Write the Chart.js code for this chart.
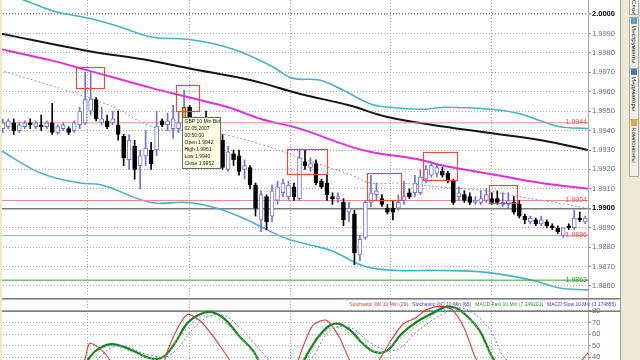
<!DOCTYPE html>
<html lang="ru">
<head>
<meta charset="UTF-8">
<title>GBP 10 Min</title>
<script src="https://cdn.jsdelivr.net/npm/chart.js"></script>
<style>
  html, body { margin: 0; padding: 0; background: #fff; }
  #wrap { position: relative; width: 640px; height: 360px; overflow: hidden; font-family: "Liberation Sans", Arial, sans-serif; }
  #main { position: absolute; left: 0; top: 0; }
  #osc { position: absolute; left: 0; top: 298px; }
  #edge { position: absolute; left: 0; top: 0; width: 2px; height: 360px; background: #eee8c4; }
  #side { position: absolute; left: 620px; top: 0; width: 20px; height: 360px; background: #ece9d8; border-left: 1px solid #9d9b8e; box-sizing: border-box; }
  .tab { position: absolute; left: 8px; width: 10px; box-sizing: border-box; border: 1px solid #aaa89a; background: #f3f1e6;
         writing-mode: vertical-rl; font-size: 6px; line-height: 8px; color: #222; white-space: nowrap; overflow: hidden; }
  .tab.on { background: #fff; }
  .ico { display: inline-block; width: 6px; height: 6px; margin-bottom: 2px; }
</style>
</head>
<body>
<div id="wrap">
  <canvas id="main" width="620" height="298"></canvas>
  <canvas id="osc" width="620" height="62"></canvas>
  <div id="edge"></div>
  <div id="side">
    <div class="tab on" style="top:-1px;height:16px">Слои</div>
    <div class="tab" style="top:17px;height:52px"><span class="ico" style="background:#5aa0c8"></span>Инструменты</div>
    <div class="tab" style="top:68px;height:52px"><span class="ico" style="background:#4a78c8"></span>Индикаторы</div>
    <div class="tab" style="top:119px;height:58px"><span class="ico" style="background:#e8a040"></span>Компоненты</div>
  </div>
</div>
<script>
// 10 min GBP bars
const openP = [
  1.9941,1.9942,1.9944,1.9940,1.9942,1.9944,1.9942,1.9943,1.9942,1.9944,
  1.9939,1.9941,1.9941,1.9940,1.9943,1.9944,1.9950,1.9956,1.9944,1.9945,
  1.9944,1.9943,1.9937,1.9925,1.9932,1.9922,1.9927,1.9930,1.9930,1.9945,
  1.9943,1.9941,1.9941,1.9942,1.9952,1.9945,1.9940,1.9941,1.9935,1.9931,
  1.9935,1.9920,1.9928,1.9927,1.9920,1.9921,1.9912,1.9894,1.9906,1.9896,
  1.9904,1.9908,1.9906,1.9911,1.9905,1.9924,1.9921,1.9923,1.9914,1.9913,
  1.9906,1.9905,1.9903,1.9898,1.9897,1.9876,1.9885,1.9903,1.9907,1.9905,
  1.9900,1.9900,1.9900,1.9904,1.9908,1.9908,1.9908,1.9915,1.9917,1.9918,
  1.9919,1.9918,1.9914,1.9906,1.9907,1.9906,1.9903,1.9903,1.9904,1.9905,
  1.9905,1.9902,1.9902,1.9903,1.9902,1.9896,1.9893,1.9894,1.9892,1.9893,
  1.9891,1.9890,1.9886,1.9891,1.9890,1.9895,1.9893
];
const highP = [
  1.9946,1.9946,1.9946,1.9944,1.9945,1.9946,1.9945,1.9948,1.9945,1.9954,
  1.9943,1.9944,1.9942,1.9945,1.9952,1.9970,1.9970,1.9957,1.9952,1.9948,
  1.9950,1.9950,1.9938,1.9938,1.9935,1.9930,1.9940,1.9934,1.9950,1.9946,
  1.9949,1.9953,1.9950,1.9961,1.9953,1.9947,1.9944,1.9950,1.9936,1.9936,
  1.9938,1.9932,1.9930,1.9930,1.9925,1.9922,1.9913,1.9909,1.9907,1.9912,
  1.9914,1.9915,1.9914,1.9913,1.9930,1.9930,1.9926,1.9925,1.9915,1.9917,
  1.9908,1.9908,1.9905,1.9903,1.9899,1.9886,1.9904,1.9917,1.9913,1.9907,
  1.9902,1.9904,1.9907,1.9914,1.9910,1.9917,1.9920,1.9922,1.9924,1.9923,
  1.9921,1.9919,1.9915,1.9911,1.9909,1.9908,1.9906,1.9909,1.9910,1.9908,
  1.9909,1.9908,1.9908,1.9906,1.9904,1.9897,1.9896,1.9895,1.9896,1.9894,
  1.9892,1.9891,1.9890,1.9892,1.9899,1.9898,1.9896
];
const lowP = [
  1.9939,1.9941,1.9938,1.9939,1.9941,1.9941,1.9941,1.9940,1.9941,1.9938,
  1.9938,1.9940,1.9938,1.9939,1.9941,1.9943,1.9948,1.9945,1.9943,1.9941,
  1.9943,1.9935,1.9922,1.9920,1.9915,1.9910,1.9922,1.9920,1.9927,1.9942,
  1.9940,1.9936,1.9939,1.9940,1.9944,1.9939,1.9938,1.9932,1.9928,1.9929,
  1.9920,1.9919,1.9922,1.9917,1.9915,1.9910,1.9896,1.9888,1.9889,1.9893,
  1.9902,1.9906,1.9904,1.9904,1.9904,1.9920,1.9919,1.9912,1.9910,1.9904,
  1.9902,1.9903,1.9891,1.9893,1.9871,1.9873,1.9884,1.9901,1.9904,1.9901,
  1.9897,1.9894,1.9899,1.9902,1.9905,1.9906,1.9907,1.9913,1.9916,1.9916,
  1.9916,1.9913,1.9902,1.9904,1.9903,1.9902,1.9902,1.9902,1.9903,1.9902,
  1.9902,1.9901,1.9900,1.9897,1.9895,1.9892,1.9892,1.9891,1.9891,1.9890,
  1.9889,1.9887,1.9885,1.9889,1.9889,1.9893,1.9892
];
const closeP = [
  1.9944,1.9945,1.9940,1.9943,1.9944,1.9943,1.9944,1.9942,1.9944,1.9939,
  1.9942,1.9943,1.9939,1.9944,1.9950,1.9956,1.9956,1.9946,1.9946,1.9942,
  1.9946,1.9938,1.9926,1.9935,1.9920,1.9927,1.9931,1.9923,1.9942,1.9943,
  1.9945,1.9946,1.9944,1.9952,1.9945,1.9941,1.9943,1.9935,1.9930,1.9934,
  1.9921,1.9929,1.9925,1.9919,1.9922,1.9912,1.9900,1.9907,1.9893,1.9909,
  1.9911,1.9913,1.9912,1.9906,1.9926,1.9922,1.9923,1.9913,1.9911,1.9907,
  1.9905,1.9906,1.9894,1.9900,1.9877,1.9884,1.9903,1.9908,1.9909,1.9902,
  1.9898,1.9898,1.9903,1.9906,1.9906,1.9913,1.9916,1.9920,1.9922,1.9921,
  1.9917,1.9914,1.9903,1.9908,1.9904,1.9903,1.9904,1.9905,1.9907,1.9903,
  1.9903,1.9903,1.9904,1.9898,1.9896,1.9894,1.9895,1.9892,1.9894,1.9891,
  1.9890,1.9888,1.9890,1.9890,1.9895,1.9894,1.9895
];

// indicator lines: [bar index, price]
const maSlow = [[-0.5,1.9990],[15.5,1.9981],[27,1.9976],[34,1.9972],[45,1.9966],[54,1.9959],[63,1.9953],[70,1.9947],[78,1.9943],[88,1.9939],[98,1.9935],[106.5,1.9930]];
const maMid = [[-0.5,1.9982],[9,1.9976],[15.5,1.9971],[27,1.9962],[34,1.9957],[41,1.9952],[47,1.9946],[54,1.9941],[63,1.9932],[67,1.9929],[76,1.9925],[80,1.9922],[90,1.9917],[98,1.9913],[106.5,1.9910]];
const bandUp = [[-0.5,2.0011],[4,2.0007],[9.8,2.0001],[15.5,1.9998],[20.7,1.9994],[27.3,1.9988],[33.5,1.9987],[41.8,1.9982],[49,1.9973],[52.7,1.9967],[57.6,1.9966],[61.8,1.9961],[66.7,1.9954],[70.4,1.9952],[76.4,1.9951],[80.7,1.9952],[88.5,1.9951],[93.5,1.9949],[98.9,1.9944],[101.3,1.9942],[106.5,1.9941]];
const bandLow = [[-0.5,1.9930],[7,1.9918],[14,1.9913],[18,1.9912],[27,1.9903],[33.5,1.9903],[39,1.9900],[44.5,1.9894],[48,1.9889],[52,1.9884],[57.6,1.9880],[60,1.9878],[66,1.9870],[72,1.9868],[79.5,1.9868],[88,1.9867],[96.4,1.9863],[101.3,1.9859],[106.5,1.9858]];
const maFast = [[-0.5,1.9971],[5.5,1.9966],[15.5,1.9957],[21,1.9951],[25.5,1.9944],[30,1.9940],[36,1.9940],[41.8,1.9937],[48,1.9932],[52,1.9928],[57.3,1.9923],[63.5,1.9917],[67,1.9913],[72,1.9913],[79.5,1.9911],[88,1.9909],[94,1.9906],[102.5,1.9902],[106.5,1.9900]];

const levels = [1.9944, 1.9904, 1.9886, 1.9863];
const levelColors = ['#ec8c8c', '#ec8c8c', '#ec9494', '#3aa03a'];
const levelText = ['#e05050', '#e05050', '#e05050', '#2c9a2c'];

// red boxes: bar index from/to, price top/bottom
const boxFrom = [13.3, 31.6, 51.8, 66.2, 76.4, 88.5];
const boxTo = [18.4, 35.8, 59.1, 72.4, 82.5, 93.6];
const boxTop = [1.99727, 1.99634, 1.99304, 1.99180, 1.99289, 1.99119];
const boxBottom = [1.99619, 1.99500, 1.99175, 1.99040, 1.99144, 1.99026];

const priceTicks = [2.0000,1.9990,1.9980,1.9970,1.9960,1.9950,1.9940,1.9930,1.9920,1.9910,1.9900,1.9890,1.9880,1.9870,1.9860];
const strongTicks = [2.0000, 1.9900];
const solidTick = 1.9900;
const timeGrid = [15.5, 33.9, 52.3, 70.5, 89.0];

// lower window: [bar index, value]
const stochK = [[12,20],[14.7,35],[15.8,52],[17.6,48],[19.5,38],[21.3,22],[24.9,15],[28.5,25],[30,46],[31.8,65],[33.6,77],[35.8,72],[38,60],[40.4,44],[42.5,30],[46.7,15],[51.3,18],[53.3,32],[54.7,50],[56.5,68],[58.9,72],[61.3,57],[63.1,38],[65.8,22],[68.5,38],[70.7,55],[72.9,69],[75.1,74],[77.1,81],[79.5,84],[81.8,81],[84,65],[86,40],[88.5,22],[95.8,12],[103,25],[106.5,44]];
const macdFast = [[12,10],[14,22],[15.8,40],[17.6,48],[20,51.5],[23.6,46],[26.7,39.5],[29.1,40],[31.3,52],[33.5,69],[35.8,77],[38,79],[40.4,73],[43.1,58],[45.5,46],[47.6,30],[51.3,20],[53.6,28],[55.8,46],[58,61],[60.4,69],[63.1,64],[65.5,52],[67.8,44.5],[70,46],[72.5,60],[75.3,70.5],[78.2,78],[80.7,83.5],[83.1,81],[86.7,63.6],[89.1,40],[92.2,22],[99.5,12],[106.5,18]];
const stochD = [[14,15],[16.7,35],[20.9,50],[26.7,42],[30.4,42],[35.8,70],[39.5,77],[43.1,66],[47.1,45],[50.4,30],[55.8,38],[59.5,63],[63.1,66],[67.1,52],[71.3,46],[75.8,64],[80.4,78],[84,82],[88.5,65],[91.3,40],[96,25],[106.5,22]];
const macdSlow = [[14,18],[16.2,38],[19.5,50],[24,44],[28.5,38],[33,62],[36.7,76],[40.4,70],[45,48],[48.6,28],[54,30],[57.3,55],[60.4,66],[64,58],[68.5,44],[72.2,56],[76.8,72],[81.3,82],[85,74],[88.5,45],[91.3,25],[106.5,20]];
const oscTicks = [80, 70, 60, 50, 40];
const oscLegend = [
  ['Stochastic %K 10 Min (29)', '#d04040'],
  ['Stochastic %D 10 Min (65)', '#3c3cd0'],
  ['MACD Fast 10 Min (7.249201)', '#2c9a2c'],
  ['MACD Slow 10 Min (3.174855)', '#3c3cd0']
];

const hoverIdx = 33;

// time labels for the bars, 10 minutes apart
const labels = [];
const t0 = new Date(2007, 4, 1, 19, 20);
const pad = n => String(n).padStart(2, '0');
for (let i = 0; i < openP.length; i++) {
  const d = new Date(t0.getTime() + i * 600000);
  labels.push(pad(d.getDate()) + '.' + pad(d.getMonth() + 1) + '.' + d.getFullYear() + ' ' + pad(d.getHours()) + ':' + pad(d.getMinutes()));
}

const upBlue = '#7070d8';
const isUp = closeP.map((c, i) => c >= openP[i]);
const bodyFill = isUp.map((u, i) => i === hoverIdx ? '#f2a630' : (u ? '#ffffff' : '#000000'));
const bodyLine = isUp.map((u, i) => i === hoverIdx ? '#6a4a10' : (u ? upBlue : '#000000'));
const wickColor = isUp.map(u => u ? upBlue : '#000000');

const FONT = '"Liberation Sans", Arial, sans-serif';
const GRID = '#a9a9a9';
const near = (a, b) => Math.abs(a - b) < 1e-7;
const isStrong = c => !!(c && c.tick) && strongTicks.some(s => near(s, c.tick.value));
const isSolid = c => !!(c && c.tick) && near(c.tick.value, solidTick);
const noPad = w => s => { s.width = w; s.paddingTop = 0; s.paddingBottom = 0; };

function lineDs(pts, color, width, dash, tension, xId) {
  return {
    type: 'line',
    data: pts.map(p => ({ x: p[0], y: p[1] })),
    xAxisID: xId,
    yAxisID: 'y',
    borderColor: color,
    borderWidth: width,
    borderDash: dash || [],
    pointRadius: 0,
    tension: tension,
    fill: false,
    order: 3
  };
}

const overlay = {
  id: 'overlay',
  afterDatasetsDraw(chart) {
    const ctx = chart.ctx;
    const xs = chart.scales.xl, ys = chart.scales.y;
    const area = chart.chartArea;
    ctx.save();
    // boxes
    ctx.strokeStyle = '#e0503c';
    ctx.lineWidth = 1.2;
    boxFrom.forEach((b, i) => {
      const x0 = xs.getPixelForValue(b), x1 = xs.getPixelForValue(boxTo[i]);
      const y0 = ys.getPixelForValue(boxTop[i]), y1 = ys.getPixelForValue(boxBottom[i]);
      ctx.strokeRect(Math.round(x0) + 0.5, Math.round(y0) + 0.5, Math.round(x1 - x0), Math.round(y1 - y0));
    });
    // level labels
    ctx.font = '7px ' + FONT;
    ctx.textAlign = 'right';
    ctx.textBaseline = 'middle';
    levels.forEach((lv, i) => {
      ctx.fillStyle = levelText[i];
      ctx.fillText(lv.toFixed(4), area.right - 1, ys.getPixelForValue(lv) - 0.5);
    });
    // hover info box
    const cx = chart.scales.x.getPixelForValue(hoverIdx);
    const left = Math.round(cx) - 1.5;
    const top = Math.round(ys.getPixelForValue(closeP[hoverIdx])) + 10.5;
    const stamp = labels[hoverIdx].split(' ');
    const tip = [
      'GBP 10 Min Bid',
      stamp[0],
      stamp[1] + ':00',
      'Open ' + openP[hoverIdx].toFixed(4),
      'High ' + highP[hoverIdx].toFixed(4),
      'Low ' + lowP[hoverIdx].toFixed(4),
      'Close ' + closeP[hoverIdx].toFixed(4)
    ];
    ctx.fillStyle = '#ffffe1';
    ctx.strokeStyle = '#6a6a6a';
    ctx.lineWidth = 1;
    ctx.fillRect(left, top, 38, 51);
    ctx.strokeRect(left, top, 38, 51);
    ctx.fillStyle = '#111';
    ctx.font = '5px ' + FONT;
    ctx.textAlign = 'left';
    tip.forEach((s, i) => ctx.fillText(s, left + 2, top + 4.5 + i * 6.9));
    ctx.restore();
  }
};

new Chart(document.getElementById('main'), {
  type: 'bar',
  data: {
    labels: labels,
    datasets: [
      {
        type: 'bar', label: 'body',
        data: openP.map((o, i) => [Math.min(o, closeP[i]), Math.max(o, closeP[i])]),
        backgroundColor: bodyFill, borderColor: bodyLine, borderWidth: 1, borderSkipped: false,
        barThickness: 4, grouped: false, order: 1, xAxisID: 'x', yAxisID: 'y'
      },
      {
        type: 'bar', label: 'wick',
        data: lowP.map((l, i) => [l, highP[i]]),
        backgroundColor: wickColor, borderWidth: 0,
        barThickness: 1, grouped: false, order: 2, xAxisID: 'x', yAxisID: 'y'
      },
      ...levels.map((lv, i) => lineDs([[-0.5, lv], [106.5, lv]], levelColors[i], 1, [], 0, 'xl')),
      lineDs(maFast, '#9a9a9a', 1, [2, 2], 0.4, 'xl'),
      lineDs(bandUp, '#46b4c4', 1.6, [], 0.4, 'xl'),
      lineDs(bandLow, '#46b4c4', 1.6, [], 0.4, 'xl'),
      lineDs(maMid, '#e030d8', 2, [], 0.4, 'xl'),
      lineDs(maSlow, '#141414', 2, [], 0.4, 'xl')
    ]
  },
  options: {
    responsive: false,
    animation: false,
    events: [],
    layout: { padding: { left: 0, right: 0, top: 0, bottom: 1 } },
    plugins: { legend: { display: false }, tooltip: { enabled: false } },
    scales: {
      x: { type: 'category', display: false, offset: true },
      xl: {
        type: 'linear', position: 'bottom', min: -0.5, max: 106.5, offset: false,
        ticks: { display: false },
        grid: { color: GRID, drawTicks: false, offset: false },
        border: { display: false, dash: [1, 2] },
        afterBuildTicks: s => { s.ticks = timeGrid.map(v => ({ value: v })); },
        afterFit: s => { s.height = 0; s.paddingLeft = 0; s.paddingRight = 0; }
      },
      y: {
        type: 'linear', position: 'right', min: 1.985433, max: 2.000722,
        afterBuildTicks: s => { s.ticks = priceTicks.map(v => ({ value: v })); },
        afterFit: noPad(32),
        ticks: {
          padding: 1,
          callback: v => v.toFixed(4),
          color: c => isStrong(c) ? '#000' : '#6a6a6a',
          font: c => ({ size: 7.5, family: FONT, weight: isStrong(c) ? 'bold' : 'normal' })
        },
        grid: {
          color: c => isStrong(c) ? '#7a7a7a' : GRID,
          lineWidth: c => isStrong(c) ? 1.5 : 1,
          tickColor: '#8a8a8a', tickLength: 3
        },
        border: { display: true, color: '#a8a8a8', dash: c => isSolid(c) ? [] : [1, 2] }
      }
    }
  },
  plugins: [overlay]
});

const oscDecor = {
  id: 'oscDecor',
  beforeDatasetsDraw(chart) {
    const ctx = chart.ctx;
    ctx.save();
    ctx.fillStyle = '#7c7c7c';
    ctx.fillRect(0, 0, chart.width, 1.6);
    ctx.fillRect(0, 12.4, chart.width, 1.6);
    ctx.font = '5px ' + FONT;
    ctx.textBaseline = 'middle';
    ctx.textAlign = 'right';
    let x = 616;
    for (let i = oscLegend.length - 1; i >= 0; i--) {
      ctx.fillStyle = oscLegend[i][1];
      ctx.fillText(oscLegend[i][0], x, 6.5);
      x -= ctx.measureText(oscLegend[i][0]).width + 4;
    }
    ctx.restore();
  }
};

new Chart(document.getElementById('osc'), {
  type: 'line',
  data: {
    datasets: [
      lineDs(stochD, '#7070e0', 1, [2, 2], 0.4, 'x'),
      lineDs(macdSlow, '#74c874', 1, [2, 2], 0.4, 'x'),
      lineDs(stochK, '#d43a3a', 1.1, [], 0.25, 'x'),
      lineDs(macdFast, '#14851c', 2.2, [], 0.4, 'x')
    ]
  },
  options: {
    responsive: false,
    animation: false,
    events: [],
    layout: { padding: 0 },
    plugins: { legend: { display: false }, tooltip: { enabled: false } },
    scales: {
      x: {
        type: 'linear', min: -0.5, max: 106.5, offset: false,
        ticks: { display: false },
        grid: { color: GRID, drawTicks: false, offset: false },
        border: { display: false, dash: [1, 2] },
        afterBuildTicks: s => { s.ticks = timeGrid.map(v => ({ value: v })); },
        afterFit: s => { s.height = 0; s.paddingLeft = 0; s.paddingRight = 0; }
      },
      y: {
        position: 'right', min: 37.76, max: 91.2,
        afterBuildTicks: s => { s.ticks = oscTicks.map(v => ({ value: v })); },
        afterFit: noPad(32),
        ticks: { padding: 1, color: '#6a6a6a', font: { size: 7.5, family: FONT } },
        grid: { color: GRID, tickColor: '#8a8a8a', tickLength: 3 },
        border: { display: true, color: '#a8a8a8', dash: [1, 2] }
      }
    }
  },
  plugins: [oscDecor]
});
</script>
</body>
</html>
